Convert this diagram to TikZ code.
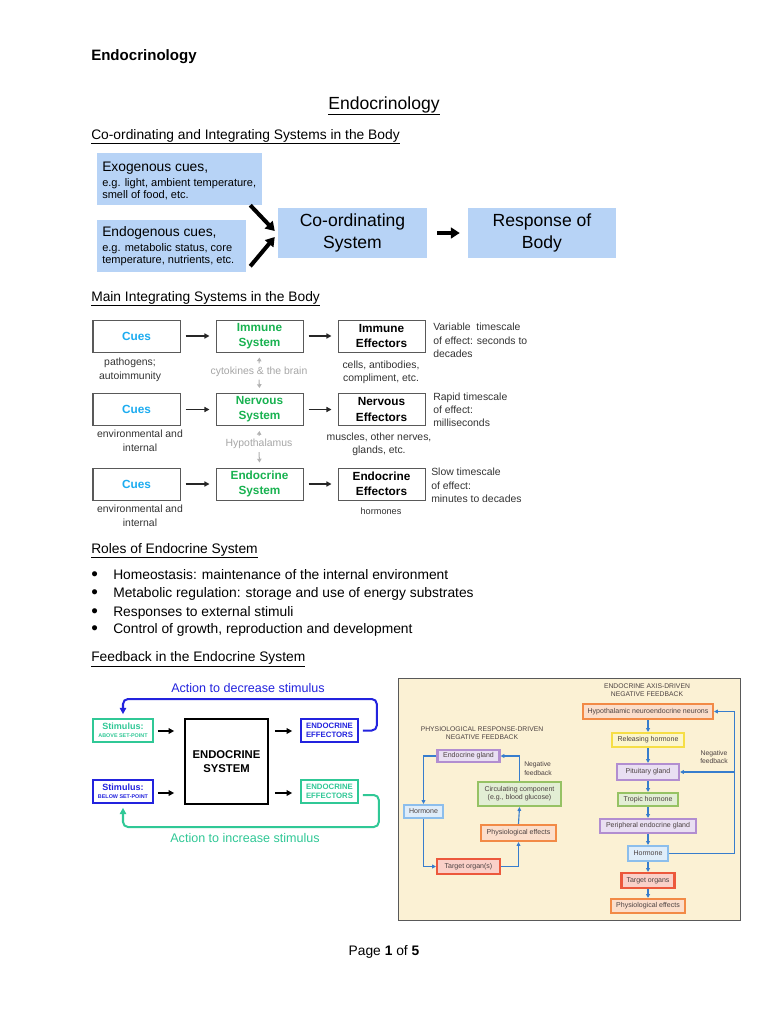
\documentclass[tikz,border=0pt]{standalone}
\usepackage{fontspec}
\setmainfont{Liberation Sans}
\usetikzlibrary{arrows.meta,calc}
\definecolor{cuefill}{RGB}{183,211,246}
\definecolor{cuetxt}{RGB}{28,172,240}
\definecolor{sysgreen}{RGB}{24,178,80}
\definecolor{fbblue}{RGB}{35,35,222}
\definecolor{fbteal}{RGB}{48,200,150}
\definecolor{cream}{RGB}{251,241,212}
\definecolor{rvarrow}{RGB}{55,125,205}
\definecolor{rvorange}{RGB}{242,138,70}
\definecolor{rvyellow}{RGB}{246,222,70}
\definecolor{rvpurple}{RGB}{178,142,208}
\definecolor{rvgreen}{RGB}{150,194,100}
\definecolor{rvblue}{RGB}{140,190,236}
\definecolor{rvred}{RGB}{236,88,60}
\definecolor{rvtext}{RGB}{75,65,65}
\begin{document}
\begin{tikzpicture}[x=0.796875pt,y=-0.796875pt,
  sz/.style 2 args={minimum width=#1*0.796875pt,minimum height=#2*0.796875pt,inner sep=0pt},
  body/.style={font=\fontsize{11}{13}\selectfont},
  cuebox/.style={fill=cuefill, draw=none},
  big/.style={font=\fontsize{11}{13}\selectfont, inner sep=0pt},
  small/.style={font=\fontsize{8.8}{10}\selectfont, inner sep=0pt},
  bigarr/.style={line width=3.2pt, -{Triangle[length=7pt,width=8.5pt]}},
  isbox/.style={draw=black!65, line width=0.8pt, font=\fontsize{9.4}{12}\selectfont\bfseries, align=center},
  isarr/.style={draw=black!85, line width=1pt, -{Triangle[length=4pt,width=4pt]}},
  garr/.style={draw=black!30, line width=0.8pt, -{Triangle[length=3pt,width=3.5pt]}},
  note/.style={font=\fontsize{8.3}{10.6}\selectfont, text=black!80, align=left, inner sep=0pt},
  cnote/.style={font=\fontsize{8.3}{10.8}\selectfont, text=black!80, align=center, inner sep=0pt},
  fbbox/.style={draw=#1, line width=1.3pt, text=#1, align=center},
  fbarr/.style={line width=1.6pt, -{Triangle[length=4.5pt,width=4.5pt]}},
  fbloop/.style={draw=#1, line width=1.6pt, rounded corners=4pt, -{Triangle[length=5pt,width=5pt]}},
  rvbox/.style={draw=#1, fill=#1!28!white, line width=1.7pt, font=\fontsize{5.6}{6.6}\selectfont, text=rvtext, align=center},
  rvarr/.style={draw=rvarrow, line width=0.9pt, -{Triangle[length=3pt,width=3pt]}},
  rvlab/.style={font=\fontsize{5.4}{6.6}\selectfont, text=rvtext, align=center, inner sep=0pt}
]
\path[use as bounding box, fill=white] (0,0) rectangle (768,1024);

% ---------- headings ----------
\node[anchor=base west, inner sep=0pt, font=\fontsize{12}{14}\selectfont\bfseries] (hdr) at (91,61) {Endocrinology};
\node[anchor=base, inner sep=0pt, font=\fontsize{14}{16}\selectfont] (ttl) at (384,109) {\underline{Endocrinology}};
\node[anchor=base west, inner sep=0pt, body] (h1) at (91,139) {\underline{Co-ordinating and Integrating Systems in the Body}};

% ---------- diagram 1 ----------
\node[cuebox, sz={165}{52}] (exo) at (179.5,179) {};
\node[big, anchor=base west] (exo1) at (102,171.7) {Exogenous cues,};
\node[small, anchor=base west] (exo2) at (102,186.7) {e.g. light, ambient temperature,};
\node[small, anchor=base west] (exo3) at (102,198.3) {smell of food, etc.};

\node[cuebox, sz={149}{52}] (endo) at (171.5,246) {};
\node[big, anchor=base west] (endo1) at (102,236.7) {Endogenous cues,};
\node[small, anchor=base west] (endo2) at (102,251.7) {e.g. metabolic status, core};
\node[small, anchor=base west] (endo3) at (102,263.3) {temperature, nutrients, etc.};

\node[cuebox, sz={149}{50}, align=center, font=\fontsize{14}{18}\selectfont] (coord) at (352.5,233) {Co-ordinating\\System};
\node[cuebox, sz={148}{50}, align=center, font=\fontsize{14}{18}\selectfont] (resp) at (542,233) {Response of\\Body};

\draw[bigarr] ($(exo.south east)+(-12,0)$) -- ($(coord.west)+(-3,-2)$);
\draw[bigarr] ($(endo.south east)+(4,-6)$) -- ($(coord.west)+(-3,4)$);
\draw[bigarr] ($(coord.east)+(10,0)$) -- ($(resp.west)+(-8,0)$);

% ---------- diagram 2 ----------
\node[anchor=base west, inner sep=0pt, body] (h2) at (91,301) {\underline{Main Integrating Systems in the Body}};

\node[isbox, sz={87}{32}, text=cuetxt] (c1) at (136.5,336) {Cues};
\node[isbox, sz={87}{32}, text=sysgreen] (s1) at (259.5,336) {Immune\\System};
\node[isbox, sz={87}{32}] (e1) at (381.5,336) {Immune\\Effectors};
\node[isbox, sz={87}{32}, text=cuetxt] (c2) at (136.5,409.5) {Cues};
\node[isbox, sz={87}{32}, text=sysgreen] (s2) at (259.5,409.5) {Nervous\\System};
\node[isbox, sz={87}{32}] (e2) at (381.5,409.5) {Nervous\\Effectors};
\node[isbox, sz={87}{32}, text=cuetxt] (c3) at (136.5,484) {Cues};
\node[isbox, sz={87}{32}, text=sysgreen] (s3) at (259.5,484) {Endocrine\\System};
\node[isbox, sz={87}{32}] (e3) at (381.5,484) {Endocrine\\Effectors};

\foreach \a/\b in {c1/s1,s1/e1,c2/s2,s2/e2,c3/s3,s3/e3}
  \draw[isarr] ($(\a.east)+(5,0)$) -- ($(\b.west)+(-6,0)$);

\node[cnote, text=black!35] (cyt) at (259,371.5) {cytokines \& the brain};
\draw[garr] ($(cyt.north)+(0,-3)$) -- ($(s1.south)+(0,5)$);
\draw[garr] ($(cyt.south)+(0,3)$) -- ($(s2.north)+(0,-5)$);
\node[cnote, text=black!35] (hyp) at (259,444) {Hypothalamus};
\draw[garr] ($(hyp.north)+(0,-3)$) -- ($(s2.south)+(0,5)$);
\draw[garr] ($(hyp.south)+(0,3)$) -- ($(s3.north)+(0,-5)$);

\node[cnote] (n1) at (130,370) {pathogens;\\autoimmunity};
\node[cnote] (n2) at (140,441) {environmental and\\internal};
\node[cnote] (n3) at (140,515.5) {environmental and\\internal};

\node[cnote] (m1) at (381,372.5) {cells, antibodies,\\compliment, etc.};
\node[cnote] (m2) at (379,444.3) {muscles, other nerves,\\glands, etc.};
\node[cnote, font=\fontsize{7.3}{9}\selectfont] (m3) at (381,511.7) {hormones};

\node[note, anchor=west] (t1) at (433,340.5) {Variable\ \ timescale\\of effect: seconds to\\decades};
\node[note, anchor=west] (t2) at (433,409.7) {Rapid timescale\\of effect:\\milliseconds};
\node[note, anchor=west] (t3) at (431,485.3) {Slow timescale\\of effect:\\minutes to decades};

% ---------- roles ----------
\node[anchor=base west, inner sep=0pt, body] (h3) at (91,553) {\underline{Roles of Endocrine System}};
\foreach \yy/\txt [count=\i] in {579.3/{Homeostasis: maintenance of the internal environment},
  597.7/{Metabolic regulation: storage and use of energy substrates},
  616/{Responses to external stimuli},
  633.3/{Control of growth, reproduction and development}}{
  \node[anchor=base west, inner sep=0pt, font=\fontsize{15}{15}\selectfont] (b\i) at (91,\yy+1) {\textbullet};
  \node[anchor=base west, inner sep=0pt, body] (r\i) at (113,\yy) {\txt};
}

\node[anchor=base west, inner sep=0pt, body] (h4) at (91,661.7) {\underline{Feedback in the Endocrine System}};

% ---------- feedback left ----------
\node[fbbox=fbteal, sz={60}{23}, font=\fontsize{4.3}{6.6}\selectfont\bfseries] (sa) at (123,730.5) {{\fontsize{7.2}{8}\selectfont Stimulus:}\\ABOVE SET-POINT};
\node[fbbox=fbblue, sz={60}{23}, font=\fontsize{4.3}{6.6}\selectfont\bfseries] (sb) at (123,791.5) {{\fontsize{7.2}{8}\selectfont Stimulus:}\\BELOW SET-POINT};
\node[draw=black, line width=1.3pt, sz={83}{85}, align=center, font=\fontsize{9}{11.7}\selectfont\bfseries] (es) at (226.5,761.5) {ENDOCRINE\\SYSTEM};
\node[fbbox=fbblue, sz={57}{23}, font=\fontsize{6.2}{7.4}\selectfont\bfseries] (ea) at (329.5,730.5) {ENDOCRINE\\EFFECTORS};
\node[fbbox=fbteal, sz={57}{23}, font=\fontsize{6.2}{7.4}\selectfont\bfseries] (eb) at (329.5,791.5) {ENDOCRINE\\EFFECTORS};

\draw[fbarr] ($(sa.east)+(4,0.5)$) -- ($(es.west)+(-10,-30.5)$);
\draw[fbarr] ($(sb.east)+(4,1.5)$) -- ($(es.west)+(-10,31.5)$);
\draw[fbarr] ($(es.east)+(6,-30.5)$) -- ($(ea.west)+(-8,0.5)$);
\draw[fbarr] ($(es.east)+(6,31.5)$) -- ($(eb.west)+(-8,1.5)$);

\draw[fbloop=fbblue] ($(ea.east)+(4,0)$) -| ($(ea.east)+(18,-31.5)$) -| ($(sa.north)+(0,-4)$);
\draw[fbloop=fbteal] ($(eb.east)+(4,3.5)$) -| ($(eb.east)+(20,35.5)$) -| ($(sb.south)+(0,4)$);

\node[inner sep=0pt, font=\fontsize{10}{12}\selectfont, text=fbblue] (dec) at (248,688) {Action to decrease stimulus};
\node[inner sep=0pt, font=\fontsize{10}{12}\selectfont, text=fbteal] (inc) at (245,838) {Action to increase stimulus};

% ---------- feedback right (panel) ----------
\node[draw=black!65, fill=cream, line width=0.8pt, sz={342}{242}] (panel) at (569,799) {};

\node[rvlab] (lt) at (482,733.5) {PHYSIOLOGICAL RESPONSE-DRIVEN\\NEGATIVE FEEDBACK};
\node[rvbox=rvpurple, sz={62}{12}] (eg) at (468.5,756) {Endocrine gland};
\node[rvbox=rvblue, sz={39}{13}] (hm) at (423.5,811.5) {Hormone};
\node[rvbox=rvgreen, sz={83}{24}] (cc) at (519.5,794) {Circulating component\\(e.g., blood glucose)};
\node[rvbox=rvorange, sz={75}{16}] (pe) at (518.5,833) {Physiological effects};
\node[rvbox=rvred, sz={63}{15}] (to) at (468.5,866.5) {Target organ(s)};
\node[rvlab, align=left] (nfl) at (538,768.5) {Negative\\feedback};

\draw[rvarr] (eg.west) -| (hm.north);
\draw[rvarr] (hm.south) |- (to.west);
\draw[rvarr] (to.east) -| (pe.south);
\draw[rvarr] (pe.north) -- (cc.south);
\draw[rvarr] (cc.north) |- (eg.east);

\node[rvlab] (rt) at (647,690.5) {ENDOCRINE AXIS-DRIVEN\\NEGATIVE FEEDBACK};
\node[rvbox=rvorange, sz={130}{15}] (hy) at (648,711.5) {Hypothalamic neuroendocrine neurons};
\node[rvbox=rvyellow, sz={72}{14}] (rh) at (648,740) {Releasing hormone};
\node[rvbox=rvpurple, sz={62}{16}] (pg) at (648,772) {Pituitary gland};
\node[rvbox=rvgreen, sz={60}{13}] (th) at (648,799.5) {Tropic hormone};
\node[rvbox=rvpurple, sz={96}{14}] (peg) at (648,826) {Peripheral endocrine gland};
\node[rvbox=rvblue, sz={40}{15}] (hr) at (648,853.5) {Hormone};
\node[rvbox=rvred, sz={53}{15}] (tg) at (648,880.5) {Target organs};
\node[rvbox=rvorange, sz={74}{14}] (pf) at (648,906) {Physiological effects};
\node[rvlab] (nfr) at (714,757) {Negative\\feedback};

\foreach \a/\b in {hy/rh,rh/pg,pg/th,th/peg,peg/hr,hr/tg,tg/pf}
  \draw[rvarr] (\a.south) -- (\b.north);
\draw[rvarr] (hr.east) -- ++(65,0) coordinate (fbc) |- (hy.east);
\draw[rvarr] (fbc |- pg.east) -- (pg.east);

% ---------- footer ----------
\node[anchor=base, inner sep=0pt, body] (foot) at (384,955) {Page \textbf{1} of \textbf{5}};
\end{tikzpicture}
\end{document}
